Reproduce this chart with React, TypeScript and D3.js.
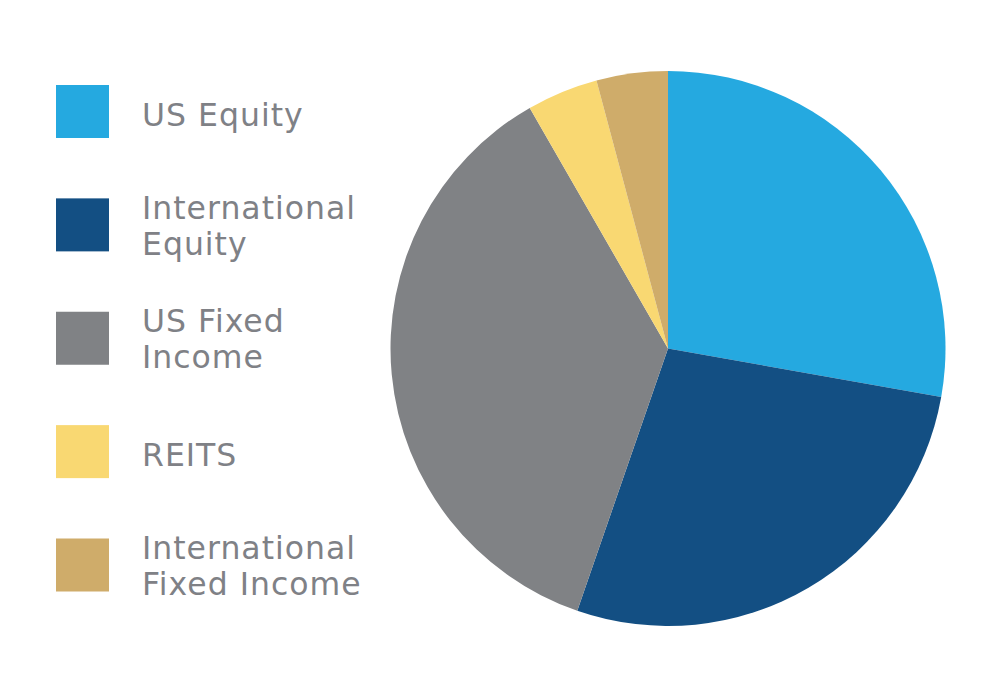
import React from "react";
import * as d3 from "d3";

const categories = ["US Equity", "International Equity", "US Fixed Income", "REITS", "International Fixed Income"];
const legendLines = [["US Equity"], ["International", "Equity"], ["US Fixed", "Income"], ["REITS"], ["International", "Fixed Income"]];
const values = [27.8, 27.5, 36.4, 4.15, 4.15];
const palette = ["#25a9e0", "#134f83", "#808285", "#f9d872", "#cfac6a"];

export default function App() {
  const W = 1000, H = 700;
  const cx = 668, cy = 348.5, r = 277.5;
  const pie = d3.pie<number>().sort(null).value((d) => d).startAngle(0).endAngle(2 * Math.PI);
  const arcs = pie(values);
  const arc = d3.arc<d3.PieArcDatum<number>>().innerRadius(0).outerRadius(r);
  const legendY = d3.scaleLinear().domain([0, 4]).range([111.5, 565]);
  return (
    <svg width={W} height={H} style={{ position: "absolute", left: 0, top: 0, background: "#fff" }}>
      <g transform={`translate(${cx},${cy})`}>
        {arcs.map((a, i) => (
          <path key={categories[i]} d={arc(a) || ""} fill={palette[i]} />
        ))}
      </g>
      {categories.map((c, i) => {
        const yc = legendY(i);
        const lines = legendLines[i];
        return (
          <g key={c}>
            <rect x={56} y={yc - 26.5} width={53} height={53} fill={palette[i]} />
            {lines.map((t, j) => (
              <text
                key={t}
                x={142}
                y={lines.length === 1 ? yc + 14 : yc - 6 + j * 36}
                fontFamily="'DejaVu Sans', sans-serif"
                fontSize={31.5}
                letterSpacing={1}
                fill="#7f8186"
              >
                {t}
              </text>
            ))}
          </g>
        );
      })}
    </svg>
  );
}
